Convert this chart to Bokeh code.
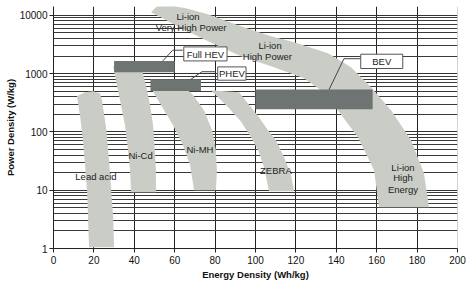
from bokeh.plotting import figure
from bokeh.models import FixedTicker, PrintfTickFormatter, Span, Range1d
from bokeh.core.properties import value
from bokeh.embed import file_html
from bokeh.resources import INLINE

# ---- data (Energy density Wh/kg, Power density W/kg) ----
lead_x = [11.6, 13.1, 14.6, 15.6, 16.6, 17.1, 17.6, 30.0, 29.5, 28.5, 27.5, 26.0, 24.0, 23.0, 19.6, 15.6]
lead_y = [410, 193, 72, 27, 10, 3.4, 1.05, 1.05, 3.7, 10, 33, 120, 350, 460, 500, 480]

nicd_x = [29.5, 31.4, 33.4, 35.4, 36.9, 37.9, 38.4, 50.7, 50.7, 50.2, 49.3, 47.8, 45.8, 43.3]
nicd_y = [1340, 630, 290, 130, 49, 22, 9.2, 9.2, 22, 49, 130, 290, 630, 1340]

nimh_x = [48.3, 53.2, 59.2, 64.1, 67.6, 69.6, 80.4, 80.9, 80.4, 78.5, 74.5, 69.1, 65.6]
nimh_y = [560, 290, 130, 59, 27, 10, 10, 22, 49, 107, 236, 430, 560]

zebra_x = [78.0, 86.4, 92.8, 97.8, 101.7, 104.2, 106.7, 119.1, 117.6, 114.1, 110.1, 106.2, 101.7, 97.8, 91.8]
zebra_y = [519, 266, 151, 81, 45, 25, 9.6, 9.6, 18, 37, 72, 107, 179, 266, 480]

liion_x = [48.3, 51.2, 54.2, 65.6, 76.5, 92.8, 107.7, 119.1, 135.9, 147.3, 157.2, 167.1, 177.0, 183.4, 185.9,
           161.1, 158.7, 150.7, 140.8, 132.4, 124.0, 107.7, 92.8, 75.5, 60.6]
liion_y = [11300, 14300, 15500, 13200, 10400, 6500, 4380, 3450, 2240, 1290, 584, 236, 72, 19.6, 5.1,
           5.1, 22, 81, 236, 519, 834, 1340, 1990, 3740, 6760]

# vehicle requirement bars
veh_names = ["Full HEV", "PHEV", "BEV"]
veh_e_min = [30, 48, 100]
veh_e_max = [60, 73, 158]
veh_p_min = [1050, 505, 245]
veh_p_max = [1650, 800, 535]

x_ticks = [0, 20, 40, 60, 80, 100, 120, 140, 160, 180, 200]
y_ticks = [1, 10, 100, 1000, 10000]

# ---- figure ----
band_color = "#c9cdc5"
bar_color = "#6e7471"
FONT = "Liberation Sans"

p = figure(width=474, height=282, y_axis_type="log",
           x_range=Range1d(0, 200), y_range=Range1d(1, 14160),
           output_backend="svg", toolbar_location=None,
           min_border_left=53, min_border_right=17, min_border_top=6, min_border_bottom=34)
p.outline_line_color = None
p.background_fill_color = "white"

# grids
p.xgrid.ticker = FixedTicker(ticks=x_ticks[1:-1])
p.xgrid.grid_line_color = "#222222"
p.xgrid.grid_line_width = 1
minor = [m * 10 ** k for k in range(0, 4) for m in range(2, 10)]
p.yaxis.ticker = FixedTicker(ticks=y_ticks, minor_ticks=minor)
p.ygrid.grid_line_color = "#333333"
p.ygrid.minor_grid_line_color = "#3a3a3a"
p.ygrid.grid_line_width = 1
p.ygrid.minor_grid_line_width = 1
p.add_layout(Span(location=200, dimension="height", line_color="#aaaaaa", line_width=1))

# axes
p.xaxis.ticker = FixedTicker(ticks=x_ticks)
p.yaxis.formatter = PrintfTickFormatter(format="%d")
for ax in (p.xaxis[0], p.yaxis[0]):
    ax.major_label_text_font = FONT
    ax.major_label_text_font_size = "10px"
    ax.major_label_text_color = "#111111"
    ax.axis_label_text_font = FONT
    ax.axis_label_text_font_size = "9.5px"
    ax.axis_label_text_font_style = "bold"
    ax.axis_label_text_color = "#111111"
    ax.axis_line_color = "#222222"
    ax.major_tick_line_color = "#222222"
    ax.minor_tick_line_color = None
    ax.major_tick_in = 0
    ax.major_tick_out = 4
p.xaxis.axis_label = "Energy Density (Wh/kg)"
p.yaxis.axis_label = "Power Density (W/kg)"
p.xaxis.major_label_standoff = 3
p.yaxis.major_label_standoff = 2
p.xaxis.axis_label_standoff = 2
p.yaxis.axis_label_standoff = 1

# bands
for bx, by in [(liion_x, liion_y), (lead_x, lead_y), (nicd_x, nicd_y), (nimh_x, nimh_y), (zebra_x, zebra_y)]:
    p.patch(bx, by, fill_color=band_color, line_color=None)

# requirement bars
p.quad(left=veh_e_min, right=veh_e_max, bottom=veh_p_min, top=veh_p_max,
       fill_color=bar_color, line_color=None)

# callouts: leader lines, boxes, texts
leaders = [([64.0, 59.0, 54.1], [2520, 2520, 1650]),
           ([80.4, 73.5, 68.1], [1078, 1078, 802]),
           ([152.1, 143.8, 136.4], [1802, 1802, 530])]
for lx, ly in leaders:
    p.line(lx, ly, line_color="#444444", line_width=1)
box_l = [64.5, 81.3, 152.1]
box_r = [85.9, 95.3, 172.9]
box_b = [1650, 771, 1222]
box_t = [2870, 1303, 2150]
p.quad(left=box_l, right=box_r, bottom=box_b, top=box_t,
       fill_color="white", line_color="#555555", line_width=1)
p.text(x=[75.2, 88.3, 162.5], y=[2150, 1004, 1632], text=veh_names,
       text_font=value(FONT), text_font_size="9.5px", text_color="#222222",
       text_align="center", text_baseline="middle")

# band labels
lab_x = [21.0, 43.1, 72.5, 110.1, 66.6, 68.1, 107.2, 105.9, 173.0, 173.0, 173.0]
lab_y = [17.4, 39, 49.5, 21.6, 9460, 6125, 3070, 1990, 24.3, 16.4, 10.4]
lab_t = ["Lead acid", "Ni-Cd", "Ni-MH", "ZEBRA", "Li-ion", "Very High Power",
         "Li-ion", "High Power", "Li-ion", "High", "Energy"]
p.text(x=lab_x, y=lab_y, text=lab_t,
       text_font=value(FONT), text_font_size="9.5px", text_color="#222222",
       text_align="center", text_baseline="middle")

open("out.html", "w").write(file_html(p, INLINE))
